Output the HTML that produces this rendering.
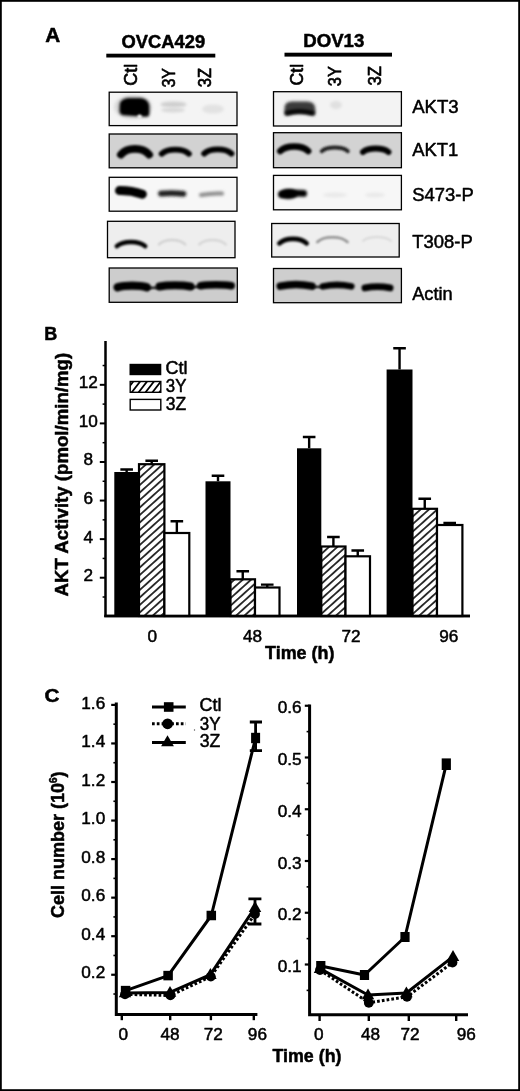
<!DOCTYPE html>
<html><head><meta charset="utf-8"><title>Figure</title>
<style>html,body{margin:0;padding:0;background:#fff}svg{display:block}</style></head>
<body>
<svg width="520" height="1091" viewBox="0 0 520 1091" font-family='"Liberation Sans", sans-serif' fill="#000">
<defs>
<filter id="b1" filterUnits="userSpaceOnUse" x="90" y="80" width="330" height="240"><feGaussianBlur stdDeviation="0.9"/></filter>
<filter id="b2" filterUnits="userSpaceOnUse" x="90" y="80" width="330" height="240"><feGaussianBlur stdDeviation="1.8"/></filter>
<filter id="b15" filterUnits="userSpaceOnUse" x="90" y="80" width="330" height="240"><feGaussianBlur stdDeviation="1.35"/></filter>
<filter id="b05" filterUnits="userSpaceOnUse" x="90" y="80" width="330" height="240"><feGaussianBlur stdDeviation="0.6"/></filter>
<pattern id="hatch" patternUnits="userSpaceOnUse" width="12" height="5.57" patternTransform="rotate(-42)">
<rect width="12" height="5.57" fill="#fff"/>
<rect x="0" y="2" width="12" height="1.55" fill="#000"/>
</pattern>
<pattern id="hatchL" patternUnits="userSpaceOnUse" width="12" height="4.9" patternTransform="rotate(-47) translate(0 1.2)">
<rect width="12" height="4.9" fill="#fff"/>
<rect x="0" y="1.7" width="12" height="1.5" fill="#000"/>
</pattern>
</defs>
<rect x="0" y="0" width="520" height="1091" fill="#fff"/>
<rect x="0.9" y="0.9" width="518.2" height="1089.2" fill="none" stroke="#000" stroke-width="1.8"/>
<text transform="translate(45.3 42)" font-size="19.5" stroke="#000" stroke-width="0.5" stroke-linejoin="round" font-weight="bold" textLength="15" lengthAdjust="spacingAndGlyphs" >A</text>
<text transform="translate(121.6 48)" font-size="18.3" stroke="#000" stroke-width="0.5" stroke-linejoin="round" font-weight="bold" textLength="83.5" lengthAdjust="spacingAndGlyphs" >OVCA429</text>
<rect x="106.3" y="53.7" width="109" height="3.8" fill="#000"/>
<text transform="translate(303.3 46.5)" font-size="18.3" stroke="#000" stroke-width="0.5" stroke-linejoin="round" font-weight="bold" textLength="61" lengthAdjust="spacingAndGlyphs" >DOV13</text>
<rect x="284.5" y="52.7" width="107.5" height="3.9" fill="#000"/>
<text transform="translate(137 85.8) rotate(-90)" font-size="19" stroke="#000" stroke-width="0.65" stroke-linejoin="round" textLength="22" lengthAdjust="spacingAndGlyphs" >Ctl</text>
<text transform="translate(175 87.6) rotate(-90)" font-size="19" stroke="#000" stroke-width="0.65" stroke-linejoin="round" textLength="19.6" lengthAdjust="spacingAndGlyphs" >3Y</text>
<text transform="translate(210.8 87.2) rotate(-90)" font-size="19" stroke="#000" stroke-width="0.65" stroke-linejoin="round" textLength="19.2" lengthAdjust="spacingAndGlyphs" >3Z</text>
<text transform="translate(303.3 85.4) rotate(-90)" font-size="19" stroke="#000" stroke-width="0.65" stroke-linejoin="round" textLength="21.5" lengthAdjust="spacingAndGlyphs" >Ctl</text>
<text transform="translate(340.8 86.2) rotate(-90)" font-size="19" stroke="#000" stroke-width="0.65" stroke-linejoin="round" textLength="20" lengthAdjust="spacingAndGlyphs" >3Y</text>
<text transform="translate(381 85.6) rotate(-90)" font-size="19" stroke="#000" stroke-width="0.65" stroke-linejoin="round" textLength="19.6" lengthAdjust="spacingAndGlyphs" >3Z</text>
<clipPath id="c0"><rect x="109.2" y="92.2" width="127.8" height="33.39999999999999"/></clipPath>
<clipPath id="c1"><rect x="109.2" y="134" width="127.8" height="33.80000000000001"/></clipPath>
<clipPath id="c2"><rect x="109.2" y="177.3" width="127.8" height="33.89999999999998"/></clipPath>
<clipPath id="c3"><rect x="107.5" y="221.3" width="127.5" height="36.39999999999998"/></clipPath>
<clipPath id="c4"><rect x="109.2" y="268" width="128.10000000000002" height="34.30000000000001"/></clipPath>
<clipPath id="c5"><rect x="273.5" y="91.7" width="127.89999999999998" height="34.3"/></clipPath>
<clipPath id="c6"><rect x="273.5" y="132.7" width="127.89999999999998" height="35.0"/></clipPath>
<clipPath id="c7"><rect x="273.5" y="175.4" width="127.89999999999998" height="34.400000000000006"/></clipPath>
<clipPath id="c8"><rect x="271.7" y="223.5" width="127.5" height="33.5"/></clipPath>
<clipPath id="c9"><rect x="273.5" y="268.5" width="127.89999999999998" height="34.19999999999999"/></clipPath>
<rect x="109.2" y="92.2" width="127.8" height="33.39999999999999" fill="#f4f4f4"/>
<rect x="109.2" y="134" width="127.8" height="33.80000000000001" fill="#d2d2d2"/>
<rect x="109.2" y="177.3" width="127.8" height="33.89999999999998" fill="#f7f7f7"/>
<rect x="107.5" y="221.3" width="127.5" height="36.39999999999998" fill="#eeeeee"/>
<rect x="109.2" y="268" width="128.10000000000002" height="34.30000000000001" fill="#cdcdcd"/>
<rect x="273.5" y="91.7" width="127.89999999999998" height="34.3" fill="#f3f3f3"/>
<rect x="273.5" y="132.7" width="127.89999999999998" height="35.0" fill="#d3d3d3"/>
<rect x="273.5" y="175.4" width="127.89999999999998" height="34.400000000000006" fill="#f7f7f7"/>
<rect x="271.7" y="223.5" width="127.5" height="33.5" fill="#efefef"/>
<rect x="273.5" y="268.5" width="127.89999999999998" height="34.19999999999999" fill="#cecece"/>
<g clip-path="url(#c0)">
<ellipse cx="133" cy="107" rx="19" ry="12" fill="#aaa" opacity="0.35" filter="url(#b2)"/>
<path d="M119.6 104.5 Q120 99 128 98 L141 97.9 Q149.2 99 149.4 107 L149.4 114 Q149.2 117.2 145 116.8 L123 115.2 Q119.2 114.8 119.4 110 Z" fill="#000" filter="url(#b15)"/>
<path d="M122.5 104.5 Q123 101 128 100.6 L141 100.5 Q146.6 101 146.8 107 L146.8 112.6 Q146.6 114.4 144 114.2 L125 113 Q122.3 112.8 122.4 110 Z" fill="#000" filter="url(#b1)"/>
<circle cx="139.6" cy="116.8" r="2.2" fill="#f4f4f4" filter="url(#b1)"/>
<ellipse cx="173.5" cy="104.4" rx="13" ry="3" fill="#cfcfcf" filter="url(#b2)"/>
<ellipse cx="173" cy="110" rx="12" ry="2.6" fill="#d8d8d8" filter="url(#b2)"/>
<ellipse cx="213" cy="109" rx="11" ry="4.6" fill="#e2e2e2" filter="url(#b2)"/>
</g>
<g clip-path="url(#c1)">
<path d="M120.90 154.6 C127.10 147.00 142.90 147.00 149.10 154.6" fill="none" stroke="#000" stroke-width="7.8" stroke-linecap="round" filter="url(#b1)" opacity="1"/>
<path d="M161.65 153.8 C167.66 148.20 182.94 148.20 188.95 153.8" fill="none" stroke="#000" stroke-width="5.7" stroke-linecap="round" filter="url(#b1)" opacity="1"/>
<path d="M204.15 153.6 C210.16 148.00 225.44 148.00 231.45 153.6" fill="none" stroke="#000" stroke-width="5.9" stroke-linecap="round" filter="url(#b1)" opacity="1"/>
</g>
<g clip-path="url(#c2)">
<path d="M119.5 190.6 Q131 190.4 142.4 194.2" fill="none" stroke="#000" stroke-width="9" stroke-linecap="round" filter="url(#b1)"/>
<path d="M161 193.6 Q172 192.4 183.4 193.8" fill="none" stroke="#1c1c1c" stroke-width="5.8" stroke-linecap="round" filter="url(#b15)"/>
<path d="M201 195 Q212 193 222 193.6" fill="none" stroke="#8a8a8a" stroke-width="4" stroke-linecap="round" filter="url(#b15)"/>
</g>
<g clip-path="url(#c3)">
<path d="M116.85 246.2 C123.08 240.47 138.92 240.47 145.15 246.2" fill="none" stroke="#000" stroke-width="4.5" stroke-linecap="round" filter="url(#b1)" opacity="1"/>
<path d="M159.00 244.4 C164.76 238.53 179.44 238.53 185.20 244.4" fill="none" stroke="#d2d2d2" stroke-width="2.6" stroke-linecap="round" filter="url(#b1)" opacity="1"/>
<path d="M199.30 244.4 C205.11 238.53 219.89 238.53 225.70 244.4" fill="none" stroke="#d6d6d6" stroke-width="2.6" stroke-linecap="round" filter="url(#b1)" opacity="1"/>
</g>
<g clip-path="url(#c4)">
<path d="M117.60 287.2 C124.90 285.07 139.50 285.07 146.80 287.2" fill="none" stroke="#000" stroke-width="8.4" stroke-linecap="round" filter="url(#b1)" opacity="1"/>
<path d="M159.60 286.5 C167.30 284.90 182.70 284.90 190.40 286.5" fill="none" stroke="#000" stroke-width="8" stroke-linecap="round" filter="url(#b1)" opacity="1"/>
<path d="M200.80 285.7 C208.40 284.37 223.60 284.37 231.20 285.7" fill="none" stroke="#000" stroke-width="7.6" stroke-linecap="round" filter="url(#b1)" opacity="1"/>
<path d="M148 288 L158 287.6 M191 287.4 L200 286.4" stroke="#000" stroke-width="2.2" filter="url(#b1)"/>
</g>
<g clip-path="url(#c5)">
<path d="M284.4 113 L284.6 107 Q285 102 292 101.6 L307 101.6 Q314.8 102 315.2 108 L315.4 113.5 Q315.2 116.2 312 115.6 Q299 112 288 115.6 Q284.4 116.2 284.4 113 Z" fill="#3a3a3a" filter="url(#b15)"/>
<path d="M287 113 Q299 109.6 312.4 113" stroke="#000" stroke-width="4" fill="none" stroke-linecap="round" filter="url(#b15)"/>
<ellipse cx="336" cy="105" rx="6" ry="4" fill="#e0e0e0" filter="url(#b2)"/>
</g>
<g clip-path="url(#c6)">
<path d="M280.30 151 C286.42 145.00 301.98 145.00 308.10 151" fill="none" stroke="#000" stroke-width="6.6" stroke-linecap="round" filter="url(#b1)" opacity="1"/>
<path d="M321.70 151.2 C327.46 146.27 342.14 146.27 347.90 151.2" fill="none" stroke="#222" stroke-width="3.8" stroke-linecap="round" filter="url(#b1)" opacity="1"/>
<path d="M362.95 152 C368.56 147.33 382.84 147.33 388.45 152" fill="none" stroke="#000" stroke-width="5.9" stroke-linecap="round" filter="url(#b1)" opacity="1"/>
</g>
<g clip-path="url(#c7)">
<path d="M281.6 194.4 Q292 192.6 303.6 193.4" fill="none" stroke="#000" stroke-width="6.8" stroke-linecap="round" filter="url(#b15)"/>
<ellipse cx="288.5" cy="194" rx="9" ry="5" fill="#000" filter="url(#b15)"/>
<ellipse cx="335" cy="195" rx="12" ry="2.5" fill="#e9e9e9" filter="url(#b2)"/>
<ellipse cx="375" cy="195" rx="10" ry="2.5" fill="#e9e9e9" filter="url(#b2)"/>
</g>
<g clip-path="url(#c8)">
<path d="M279.35 243.4 C285.36 237.40 300.64 237.40 306.65 243.4" fill="none" stroke="#000" stroke-width="4.7" stroke-linecap="round" filter="url(#b1)" opacity="1"/>
<path d="M317.30 242 C323.94 235.60 340.86 235.60 347.50 242" fill="none" stroke="#909090" stroke-width="2.6" stroke-linecap="round" filter="url(#b1)" opacity="1"/>
<path d="M362.90 241 C369.10 235.67 384.90 235.67 391.10 241" fill="none" stroke="#d8d8d8" stroke-width="1.8" stroke-linecap="round" filter="url(#b1)" opacity="1"/>
</g>
<g clip-path="url(#c9)">
<path d="M280.20 286.2 C289.71 284.07 302.39 284.07 311.90 286.2" fill="none" stroke="#000" stroke-width="7.4" stroke-linecap="round" filter="url(#b1)" opacity="1"/>
<path d="M322.90 286.4 C331.42 284.53 342.78 284.53 351.30 286.4" fill="none" stroke="#000" stroke-width="6.6" stroke-linecap="round" filter="url(#b1)" opacity="1"/>
<path d="M364.90 287.8 C372.46 286.47 382.54 286.47 390.10 287.8" fill="none" stroke="#000" stroke-width="6.8" stroke-linecap="round" filter="url(#b1)" opacity="1"/>
<path d="M313 286.8 L322 287" stroke="#000" stroke-width="2.2" filter="url(#b1)"/>
</g>
<rect x="109.2" y="92.2" width="127.8" height="33.39999999999999" fill="none" stroke="#000" stroke-width="1.3"/>
<rect x="109.2" y="134" width="127.8" height="33.80000000000001" fill="none" stroke="#000" stroke-width="1.3"/>
<rect x="109.2" y="177.3" width="127.8" height="33.89999999999998" fill="none" stroke="#000" stroke-width="1.3"/>
<rect x="107.5" y="221.3" width="127.5" height="36.39999999999998" fill="none" stroke="#000" stroke-width="1.3"/>
<rect x="109.2" y="268" width="128.10000000000002" height="34.30000000000001" fill="none" stroke="#000" stroke-width="1.3"/>
<rect x="273.5" y="91.7" width="127.89999999999998" height="34.3" fill="none" stroke="#000" stroke-width="1.3"/>
<rect x="273.5" y="132.7" width="127.89999999999998" height="35.0" fill="none" stroke="#000" stroke-width="1.3"/>
<rect x="273.5" y="175.4" width="127.89999999999998" height="34.400000000000006" fill="none" stroke="#000" stroke-width="1.3"/>
<rect x="271.7" y="223.5" width="127.5" height="33.5" fill="none" stroke="#000" stroke-width="1.3"/>
<rect x="273.5" y="268.5" width="127.89999999999998" height="34.19999999999999" fill="none" stroke="#000" stroke-width="1.3"/>
<text transform="translate(412.2 113.3)" font-size="18.4" stroke="#000" stroke-width="0.5" stroke-linejoin="round" textLength="46.5" lengthAdjust="spacingAndGlyphs" >AKT3</text>
<text transform="translate(412.2 155.5)" font-size="18.4" stroke="#000" stroke-width="0.5" stroke-linejoin="round" textLength="46" lengthAdjust="spacingAndGlyphs" >AKT1</text>
<text transform="translate(412.2 201.3)" font-size="18.4" stroke="#000" stroke-width="0.5" stroke-linejoin="round" textLength="61.5" lengthAdjust="spacingAndGlyphs" >S473-P</text>
<text transform="translate(412.2 248)" font-size="18.4" stroke="#000" stroke-width="0.5" stroke-linejoin="round" textLength="60.5" lengthAdjust="spacingAndGlyphs" >T308-P</text>
<text transform="translate(412.2 299.5)" font-size="18.4" stroke="#000" stroke-width="0.5" stroke-linejoin="round" textLength="40.5" lengthAdjust="spacingAndGlyphs" >Actin</text>
<text transform="translate(44.3 340.2)" font-size="18.6" stroke="#000" stroke-width="0.5" stroke-linejoin="round" font-weight="bold" textLength="13" lengthAdjust="spacingAndGlyphs" >B</text>
<path d="M105.5 341 L105.5 616 L470 616" fill="none" stroke="#000" stroke-width="2.5" stroke-linejoin="miter"/>
<path d="M102.6 597.01 L105.5 597.01" stroke="#000" stroke-width="1.5"/>
<path d="M99.8 577.72 L105.5 577.72" stroke="#000" stroke-width="2"/>
<text transform="translate(88.2 581.2199999999999)" font-size="17.2" stroke="#000" stroke-width="0.5" stroke-linejoin="round" text-anchor="middle" >2</text>
<path d="M102.6 558.43 L105.5 558.43" stroke="#000" stroke-width="1.5"/>
<path d="M99.8 539.14 L105.5 539.14" stroke="#000" stroke-width="2"/>
<text transform="translate(88.2 542.64)" font-size="17.2" stroke="#000" stroke-width="0.5" stroke-linejoin="round" text-anchor="middle" >4</text>
<path d="M102.6 519.85 L105.5 519.85" stroke="#000" stroke-width="1.5"/>
<path d="M99.8 500.56 L105.5 500.56" stroke="#000" stroke-width="2"/>
<text transform="translate(88.2 504.05999999999995)" font-size="17.2" stroke="#000" stroke-width="0.5" stroke-linejoin="round" text-anchor="middle" >6</text>
<path d="M102.6 481.27 L105.5 481.27" stroke="#000" stroke-width="1.5"/>
<path d="M99.8 461.98 L105.5 461.98" stroke="#000" stroke-width="2"/>
<text transform="translate(88.2 465.47999999999996)" font-size="17.2" stroke="#000" stroke-width="0.5" stroke-linejoin="round" text-anchor="middle" >8</text>
<path d="M102.6 442.69 L105.5 442.69" stroke="#000" stroke-width="1.5"/>
<path d="M99.8 423.40 L105.5 423.40" stroke="#000" stroke-width="2"/>
<text transform="translate(88.2 426.9)" font-size="17.2" stroke="#000" stroke-width="0.5" stroke-linejoin="round" text-anchor="middle" >10</text>
<path d="M102.6 404.11 L105.5 404.11" stroke="#000" stroke-width="1.5"/>
<path d="M99.8 384.82 L105.5 384.82" stroke="#000" stroke-width="2"/>
<text transform="translate(88.2 388.31999999999994)" font-size="17.2" stroke="#000" stroke-width="0.5" stroke-linejoin="round" text-anchor="middle" >12</text>
<path d="M102.6 365.53 L105.5 365.53" stroke="#000" stroke-width="1.5"/>
<text transform="translate(67.5 596.4) rotate(-90)" font-size="18.2" stroke="#000" stroke-width="0.5" stroke-linejoin="round" font-weight="bold" textLength="243.5" lengthAdjust="spacingAndGlyphs" >AKT Activity (pmol/min/mg)</text>
<path d="M126.65 472 L126.65 469.5 M120.35000000000001 469.5 L132.95000000000002 469.5" stroke="#000" stroke-width="2.4" fill="none"/>
<rect x="114.3" y="472" width="24.700000000000003" height="144" fill="#000"/>
<path d="M151.7 464.2 L151.7 460.8 M145.39999999999998 460.8 L158.0 460.8" stroke="#000" stroke-width="2.4" fill="none"/>
<rect x="139" y="464.2" width="25.400000000000006" height="151.8" fill="url(#hatch)" stroke="#000" stroke-width="2.2"/>
<path d="M176.85000000000002 533 L176.85000000000002 521.3 M170.55 521.3 L183.15000000000003 521.3" stroke="#000" stroke-width="2.4" fill="none"/>
<rect x="164.4" y="533" width="24.900000000000006" height="83" fill="#fff" stroke="#000" stroke-width="2.2"/>
<path d="M218.0 481.3 L218.0 475.8 M211.7 475.8 L224.3 475.8" stroke="#000" stroke-width="2.4" fill="none"/>
<rect x="205.5" y="481.3" width="25.0" height="134.7" fill="#000"/>
<path d="M242.75 579.3 L242.75 571.3 M236.45 571.3 L249.05 571.3" stroke="#000" stroke-width="2.4" fill="none"/>
<rect x="230.5" y="579.3" width="24.5" height="36.700000000000045" fill="url(#hatch)" stroke="#000" stroke-width="2.2"/>
<path d="M267.25 587.5 L267.25 584.6 M260.95 584.6 L273.55 584.6" stroke="#000" stroke-width="2.4" fill="none"/>
<rect x="255" y="587.5" width="24.5" height="28.5" fill="#fff" stroke="#000" stroke-width="2.2"/>
<path d="M309.15 448.3 L309.15 437 M302.84999999999997 437 L315.45 437" stroke="#000" stroke-width="2.4" fill="none"/>
<rect x="297" y="448.3" width="24.30000000000001" height="167.7" fill="#000"/>
<path d="M333.4 546.5 L333.4 537 M327.09999999999997 537 L339.7 537" stroke="#000" stroke-width="2.4" fill="none"/>
<rect x="321.3" y="546.5" width="24.19999999999999" height="69.5" fill="url(#hatch)" stroke="#000" stroke-width="2.2"/>
<path d="M357.75 556.3 L357.75 550.5 M351.45 550.5 L364.05 550.5" stroke="#000" stroke-width="2.4" fill="none"/>
<rect x="345.5" y="556.3" width="24.5" height="59.700000000000045" fill="#fff" stroke="#000" stroke-width="2.2"/>
<path d="M399.55 369.5 L399.55 348.3 M393.25 348.3 L405.85 348.3" stroke="#000" stroke-width="2.4" fill="none"/>
<rect x="386.6" y="369.5" width="25.899999999999977" height="246.5" fill="#000"/>
<path d="M424.75 508.8 L424.75 498.8 M418.45 498.8 L431.05 498.8" stroke="#000" stroke-width="2.4" fill="none"/>
<rect x="412.5" y="508.8" width="24.5" height="107.19999999999999" fill="url(#hatch)" stroke="#000" stroke-width="2.2"/>
<path d="M449.7 525 L449.7 523 M443.4 523 L456.0 523" stroke="#000" stroke-width="2.4" fill="none"/>
<rect x="437" y="525" width="25.399999999999977" height="91" fill="#fff" stroke="#000" stroke-width="2.2"/>
<path d="M104.25 616 L470 616" stroke="#000" stroke-width="2.5"/>
<text transform="translate(152.2 641.6)" font-size="17.2" stroke="#000" stroke-width="0.5" stroke-linejoin="round" text-anchor="middle" >0</text>
<text transform="translate(252.5 641.6)" font-size="17.2" stroke="#000" stroke-width="0.5" stroke-linejoin="round" text-anchor="middle" >48</text>
<text transform="translate(351 641.6)" font-size="17.2" stroke="#000" stroke-width="0.5" stroke-linejoin="round" text-anchor="middle" >72</text>
<text transform="translate(448.8 641.6)" font-size="17.2" stroke="#000" stroke-width="0.5" stroke-linejoin="round" text-anchor="middle" >96</text>
<text transform="translate(265 658.6)" font-size="18" stroke="#000" stroke-width="0.5" stroke-linejoin="round" font-weight="bold" textLength="69.5" lengthAdjust="spacingAndGlyphs" >Time (h)</text>
<rect x="129.5" y="363.8" width="31.8" height="11.4" fill="#000"/>
<clipPath id="lg"><rect x="130.2" y="381.5" width="30.6" height="10.8"/></clipPath>
<rect x="130.2" y="381.5" width="30.6" height="10.8" fill="#fff"/>
<path d="M123.9 393.5 L134.8 379.5 M130.8 393.5 L141.7 379.5 M137.7 393.5 L148.6 379.5 M144.6 393.5 L155.5 379.5 M151.5 393.5 L162.4 379.5 M158.4 393.5 L169.3 379.5" stroke="#000" stroke-width="1.8" fill="none" clip-path="url(#lg)"/>
<rect x="130.2" y="381.5" width="30.6" height="10.8" fill="none" stroke="#000" stroke-width="1.4"/>
<rect x="130.2" y="399.4" width="30.6" height="10.6" fill="#fff" stroke="#000" stroke-width="1.4"/>
<text transform="translate(165.6 374.3)" font-size="18" stroke="#000" stroke-width="0.5" stroke-linejoin="round" textLength="22" lengthAdjust="spacingAndGlyphs" >Ctl</text>
<text transform="translate(165.8 392)" font-size="18" stroke="#000" stroke-width="0.5" stroke-linejoin="round" textLength="20.6" lengthAdjust="spacingAndGlyphs" >3Y</text>
<text transform="translate(165.8 410)" font-size="18" stroke="#000" stroke-width="0.5" stroke-linejoin="round" textLength="20.4" lengthAdjust="spacingAndGlyphs" >3Z</text>
<text transform="translate(44.6 702)" font-size="19" stroke="#000" stroke-width="0.5" stroke-linejoin="round" font-weight="bold" textLength="15" lengthAdjust="spacingAndGlyphs" >C</text>
<path d="M116.3 702.6 L116.3 1014.4 L257.4 1014.4" fill="none" stroke="#000" stroke-width="3"/>
<path d="M111.2 704.90 L116.3 704.90" stroke="#000" stroke-width="2.2"/>
<text transform="translate(105.2 708.5)" font-size="17.2" stroke="#000" stroke-width="0.5" stroke-linejoin="round" text-anchor="end" >1.6</text>
<path d="M113.4 724.17 L116.3 724.17" stroke="#000" stroke-width="1.6"/>
<path d="M111.2 743.45 L116.3 743.45" stroke="#000" stroke-width="2.2"/>
<text transform="translate(105.2 747.05)" font-size="17.2" stroke="#000" stroke-width="0.5" stroke-linejoin="round" text-anchor="end" >1.4</text>
<path d="M113.4 762.73 L116.3 762.73" stroke="#000" stroke-width="1.6"/>
<path d="M111.2 782.00 L116.3 782.00" stroke="#000" stroke-width="2.2"/>
<text transform="translate(105.2 785.6)" font-size="17.2" stroke="#000" stroke-width="0.5" stroke-linejoin="round" text-anchor="end" >1.2</text>
<path d="M113.4 801.27 L116.3 801.27" stroke="#000" stroke-width="1.6"/>
<path d="M111.2 820.55 L116.3 820.55" stroke="#000" stroke-width="2.2"/>
<text transform="translate(105.2 824.15)" font-size="17.2" stroke="#000" stroke-width="0.5" stroke-linejoin="round" text-anchor="end" >1.0</text>
<path d="M113.4 839.82 L116.3 839.82" stroke="#000" stroke-width="1.6"/>
<path d="M111.2 859.10 L116.3 859.10" stroke="#000" stroke-width="2.2"/>
<text transform="translate(105.2 862.6999999999999)" font-size="17.2" stroke="#000" stroke-width="0.5" stroke-linejoin="round" text-anchor="end" >0.8</text>
<path d="M113.4 878.38 L116.3 878.38" stroke="#000" stroke-width="1.6"/>
<path d="M111.2 897.65 L116.3 897.65" stroke="#000" stroke-width="2.2"/>
<text transform="translate(105.2 901.25)" font-size="17.2" stroke="#000" stroke-width="0.5" stroke-linejoin="round" text-anchor="end" >0.6</text>
<path d="M113.4 916.92 L116.3 916.92" stroke="#000" stroke-width="1.6"/>
<path d="M111.2 936.20 L116.3 936.20" stroke="#000" stroke-width="2.2"/>
<text transform="translate(105.2 939.8000000000001)" font-size="17.2" stroke="#000" stroke-width="0.5" stroke-linejoin="round" text-anchor="end" >0.4</text>
<path d="M113.4 955.47 L116.3 955.47" stroke="#000" stroke-width="1.6"/>
<path d="M111.2 974.75 L116.3 974.75" stroke="#000" stroke-width="2.2"/>
<text transform="translate(105.2 978.35)" font-size="17.2" stroke="#000" stroke-width="0.5" stroke-linejoin="round" text-anchor="end" >0.2</text>
<path d="M113.4 994.02 L116.3 994.02" stroke="#000" stroke-width="1.6"/>
<path d="M121.8 1014 L121.8 1020.2" stroke="#000" stroke-width="2.4"/>
<text transform="translate(123.2 1040)" font-size="17.2" stroke="#000" stroke-width="0.5" stroke-linejoin="round" text-anchor="middle" >0</text>
<path d="M170.2 1014 L170.2 1020.2" stroke="#000" stroke-width="2.4"/>
<text transform="translate(170 1040)" font-size="17.2" stroke="#000" stroke-width="0.5" stroke-linejoin="round" text-anchor="middle" >48</text>
<path d="M210.9 1014 L210.9 1020.2" stroke="#000" stroke-width="2.4"/>
<text transform="translate(213.2 1040)" font-size="17.2" stroke="#000" stroke-width="0.5" stroke-linejoin="round" text-anchor="middle" >72</text>
<path d="M253.8 1014 L253.8 1020.2" stroke="#000" stroke-width="2.4"/>
<text transform="translate(257.4 1040)" font-size="17.2" stroke="#000" stroke-width="0.5" stroke-linejoin="round" text-anchor="middle" >96</text>
<text transform="translate(63.8 918) rotate(-90)" font-size="18" stroke="#000" stroke-width="0.5" stroke-linejoin="round" font-weight="bold" >Cell number (10<tspan font-size="10" dy="-7">6</tspan><tspan dy="7">)</tspan></text>
<path d="M125 994.4 L170.4 995.4 L210.8 976.6 L255 914" fill="none" stroke="#000" stroke-width="3.0" stroke-dasharray="2.7 2.1" stroke-linejoin="round"/>
<path d="M125 993 L170 992.4 L210.4 974.6 L255 907.6" fill="none" stroke="#000" stroke-width="3.0" stroke-linejoin="round"/>
<path d="M125.6 990.6 L168.1 975.6 L211.3 915.5 L255.6 738" fill="none" stroke="#000" stroke-width="3.0" stroke-linejoin="round"/>
<path d="M255.6 722 L255.6 750.6 M249.8 722 L262 722 M249.8 750.6 L262 750.6" stroke="#000" stroke-width="2.8" fill="none"/>
<path d="M255 898.8 L255 924 M248.4 898.8 L261.4 898.8 M248.4 924 L261.4 924" stroke="#000" stroke-width="2.8" fill="none"/>
<circle cx="125" cy="994.4" r="4.9" fill="#000"/>
<circle cx="170.4" cy="995.4" r="4.9" fill="#000"/>
<circle cx="210.8" cy="976.6" r="4.9" fill="#000"/>
<circle cx="255" cy="914" r="4.9" fill="#000"/>
<path d="M125 986.52 L131.25 997.32 L118.75 997.32 Z" fill="#000"/>
<path d="M170 985.92 L176.25 996.72 L163.75 996.72 Z" fill="#000"/>
<path d="M210.4 968.12 L216.65 978.9200000000001 L204.15 978.9200000000001 Z" fill="#000"/>
<path d="M255 901.12 L261.25 911.9200000000001 L248.75 911.9200000000001 Z" fill="#000"/>
<rect x="120.85" y="985.85" width="9.5" height="9.5" fill="#000"/>
<rect x="163.35" y="970.85" width="9.5" height="9.5" fill="#000"/>
<rect x="206.55" y="910.75" width="9.5" height="9.5" fill="#000"/>
<rect x="251.1" y="732.8" width="9" height="10.4" fill="#000"/>
<path d="M152 707 L185.8 707" fill="none" stroke="#000" stroke-width="3.0" stroke-linejoin="round"/>
<rect x="163.89999999999998" y="702.2" width="9.6" height="9.6" fill="#000"/>
<path d="M152 723.8 L185.8 723.8" fill="none" stroke="#000" stroke-width="3.0" stroke-dasharray="2.7 2.1" stroke-linejoin="round"/>
<circle cx="167.6" cy="723.8" r="5.4" fill="#000"/>
<path d="M152 742.5 L185.8 742.5" fill="none" stroke="#000" stroke-width="3.0" stroke-linejoin="round"/>
<path d="M167.5 735.1999999999999 L173.9 746.1999999999999 L161.1 746.1999999999999 Z" fill="#000"/>
<text transform="translate(199.4 711.2)" font-size="18" stroke="#000" stroke-width="0.5" stroke-linejoin="round" textLength="22" lengthAdjust="spacingAndGlyphs" >Ctl</text>
<text transform="translate(199.8 729.6)" font-size="18" stroke="#000" stroke-width="0.5" stroke-linejoin="round" textLength="20.8" lengthAdjust="spacingAndGlyphs" >3Y</text>
<text transform="translate(199.8 747)" font-size="18" stroke="#000" stroke-width="0.5" stroke-linejoin="round" textLength="20.6" lengthAdjust="spacingAndGlyphs" >3Z</text>
<circle cx="194.5" cy="730" r="0.7" fill="#555"/>
<path d="M309.6 704.6 L309.6 1014.8 L468 1014.8" fill="none" stroke="#000" stroke-width="3"/>
<path d="M304.8 705.75 L309.6 705.75" stroke="#000" stroke-width="2.2"/>
<text transform="translate(301.6 713.35)" font-size="17.2" stroke="#000" stroke-width="0.5" stroke-linejoin="round" text-anchor="end" >0.6</text>
<path d="M306.6 731.62 L309.6 731.62" stroke="#000" stroke-width="1.6"/>
<path d="M304.8 757.50 L309.6 757.50" stroke="#000" stroke-width="2.2"/>
<text transform="translate(301.6 765.1)" font-size="17.2" stroke="#000" stroke-width="0.5" stroke-linejoin="round" text-anchor="end" >0.5</text>
<path d="M306.6 783.38 L309.6 783.38" stroke="#000" stroke-width="1.6"/>
<path d="M304.8 809.25 L309.6 809.25" stroke="#000" stroke-width="2.2"/>
<text transform="translate(301.6 816.85)" font-size="17.2" stroke="#000" stroke-width="0.5" stroke-linejoin="round" text-anchor="end" >0.4</text>
<path d="M306.6 835.12 L309.6 835.12" stroke="#000" stroke-width="1.6"/>
<path d="M304.8 861.00 L309.6 861.00" stroke="#000" stroke-width="2.2"/>
<text transform="translate(301.6 868.6)" font-size="17.2" stroke="#000" stroke-width="0.5" stroke-linejoin="round" text-anchor="end" >0.3</text>
<path d="M306.6 886.88 L309.6 886.88" stroke="#000" stroke-width="1.6"/>
<path d="M304.8 912.75 L309.6 912.75" stroke="#000" stroke-width="2.2"/>
<text transform="translate(301.6 920.35)" font-size="17.2" stroke="#000" stroke-width="0.5" stroke-linejoin="round" text-anchor="end" >0.2</text>
<path d="M306.6 938.62 L309.6 938.62" stroke="#000" stroke-width="1.6"/>
<path d="M304.8 964.50 L309.6 964.50" stroke="#000" stroke-width="2.2"/>
<text transform="translate(301.6 972.1)" font-size="17.2" stroke="#000" stroke-width="0.5" stroke-linejoin="round" text-anchor="end" >0.1</text>
<path d="M306.6 990.38 L309.6 990.38" stroke="#000" stroke-width="1.6"/>
<path d="M319.6 1014 L319.6 1021" stroke="#000" stroke-width="2.4"/>
<text transform="translate(318.8 1040)" font-size="17.2" stroke="#000" stroke-width="0.5" stroke-linejoin="round" text-anchor="middle" >0</text>
<path d="M368.8 1014 L368.8 1021" stroke="#000" stroke-width="2.4"/>
<text transform="translate(370.6 1040)" font-size="17.2" stroke="#000" stroke-width="0.5" stroke-linejoin="round" text-anchor="middle" >48</text>
<path d="M408.8 1014 L408.8 1021" stroke="#000" stroke-width="2.4"/>
<text transform="translate(410 1040)" font-size="17.2" stroke="#000" stroke-width="0.5" stroke-linejoin="round" text-anchor="middle" >72</text>
<path d="M456.2 1014 L456.2 1021" stroke="#000" stroke-width="2.4"/>
<text transform="translate(466.2 1040)" font-size="17.2" stroke="#000" stroke-width="0.5" stroke-linejoin="round" text-anchor="middle" >96</text>
<path d="M320 970 L368.8 1002.8 L407 996.8 L452.5 962.5" fill="none" stroke="#000" stroke-width="3.0" stroke-dasharray="2.7 2.1" stroke-linejoin="round"/>
<path d="M320 968.6 L368 995 L406.4 993 L453 956.6" fill="none" stroke="#000" stroke-width="3.0" stroke-linejoin="round"/>
<path d="M320.8 966 L364.5 975 L405 937 L446.3 764.2" fill="none" stroke="#000" stroke-width="3.0" stroke-linejoin="round"/>
<circle cx="320" cy="970" r="4.9" fill="#000"/>
<circle cx="368.8" cy="1002.8" r="4.9" fill="#000"/>
<circle cx="407" cy="996.8" r="4.9" fill="#000"/>
<circle cx="452.5" cy="962.5" r="4.9" fill="#000"/>
<path d="M320 962.12 L326.25 972.9200000000001 L313.75 972.9200000000001 Z" fill="#000"/>
<path d="M368 988.52 L374.25 999.32 L361.75 999.32 Z" fill="#000"/>
<path d="M406.4 986.52 L412.65 997.32 L400.15 997.32 Z" fill="#000"/>
<path d="M453 950.12 L459.25 960.9200000000001 L446.75 960.9200000000001 Z" fill="#000"/>
<rect x="316.2" y="961.0" width="9.2" height="10" fill="#000"/>
<rect x="359.9" y="970.0" width="9.2" height="10" fill="#000"/>
<rect x="400.4" y="932.0" width="9.2" height="10" fill="#000"/>
<rect x="441.7" y="758.4000000000001" width="9.2" height="11.6" fill="#000"/>
<text transform="translate(272.5 1062.4)" font-size="18" stroke="#000" stroke-width="0.5" stroke-linejoin="round" font-weight="bold" textLength="69" lengthAdjust="spacingAndGlyphs" >Time (h)</text>
</svg>
</body></html>
